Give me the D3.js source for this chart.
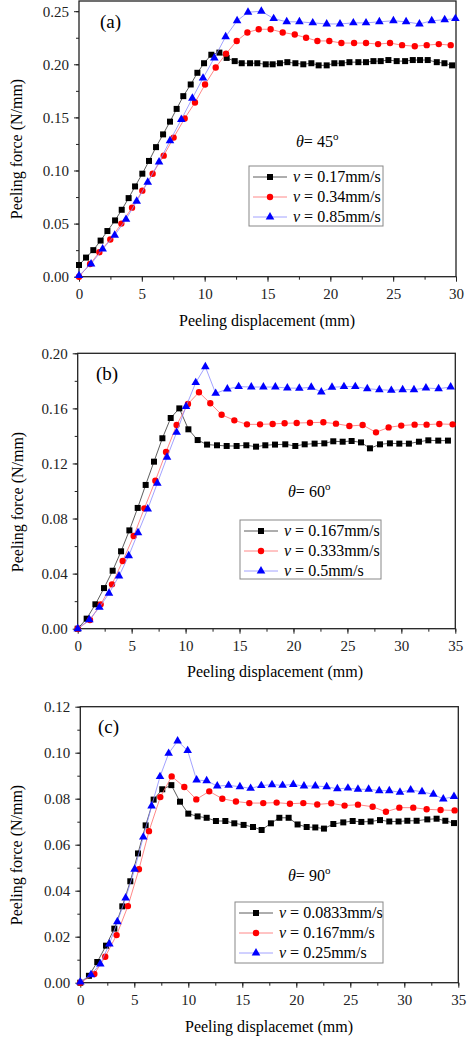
<!DOCTYPE html>
<html lang="en">
<head>
<meta charset="UTF-8">
<title>Peeling force vs displacement</title>
<script src="https://d3js.org/d3.v7.min.js"></script>
<style>
  body { margin: 0; background: #fff; }
  svg { display: block; font-family: "Liberation Serif", "DejaVu Serif", serif; }
  .tick text { font-size: 15px; fill: #222; font-family: "Liberation Serif", serif; }
  .tick line { stroke: #222; }
</style>
</head>
<body>
<svg id="chart" width="474" height="1046"></svg>
<script>
// ---- data ----
// (a) theta = 45
const aBlackX = [0,0.56,1.14,1.72,2.26,2.87,3.40,3.95,4.46,5.04,5.57,6.13,6.69,7.24,7.77,8.30,8.89,9.42,9.95,10.53,11.17,11.75,12.39,12.95,13.61,14.19,14.86,15.41,15.99,16.58,17.22,17.85,18.49,19.07,19.71,20.32,20.91,21.52,22.23,22.84,23.43,24.01,24.62,25.28,25.95,26.56,27.14,27.75,28.47,29.08,29.69];
const aBlackY = [0.011,0.018,0.025,0.034,0.043,0.053,0.063,0.074,0.085,0.097,0.109,0.122,0.134,0.146,0.158,0.170,0.181,0.192,0.201,0.209,0.211,0.206,0.203,0.201,0.201,0.201,0.200,0.200,0.201,0.202,0.201,0.200,0.201,0.199,0.199,0.201,0.201,0.202,0.202,0.202,0.203,0.203,0.204,0.203,0.203,0.204,0.204,0.204,0.202,0.201,0.199];
const aRedX = [0,0.88,1.62,2.49,3.37,4.22,5.04,5.86,6.74,7.53,8.41,9.23,10.03,10.88,11.70,12.55,13.40,14.30,15.25,16.21,17.17,18.07,18.97,19.92,20.88,21.89,22.84,23.80,24.75,25.71,26.72,27.67,28.63,29.58];
const aRedY = [0,0.012,0.023,0.035,0.050,0.065,0.081,0.097,0.114,0.131,0.149,0.164,0.181,0.197,0.210,0.222,0.230,0.233,0.233,0.230,0.228,0.225,0.222,0.222,0.220,0.220,0.220,0.219,0.220,0.218,0.217,0.218,0.219,0.218];
const aBlueX = [0,0.96,1.88,2.84,3.74,4.59,5.47,6.37,7.24,8.14,9.02,9.87,10.77,11.67,12.58,13.45,14.51,15.49,16.53,17.54,18.60,19.71,20.77,21.83,22.84,23.90,25.02,26.03,27.09,28.07,29.10,29.95];
const aBlueY = [0.001,0.012,0.026,0.039,0.054,0.071,0.089,0.108,0.128,0.148,0.168,0.187,0.206,0.226,0.241,0.249,0.250,0.243,0.240,0.240,0.239,0.238,0.238,0.239,0.239,0.240,0.241,0.240,0.238,0.241,0.242,0.243];

// (b) theta = 60
const bBlackX = [0,0.83,1.64,2.44,3.24,4.02,4.79,5.56,6.30,7.07,7.85,8.62,9.42,10.26,11.12,11.99,12.91,13.81,14.73,15.63,16.53,17.39,18.29,19.24,20.17,21.04,21.96,22.86,23.69,24.56,25.39,26.26,27.09,28.02,28.94,29.81,30.70,31.63,32.50,33.42,34.32];
const bBlackY = [0,0.0073,0.0177,0.0295,0.0421,0.0562,0.0714,0.0877,0.1044,0.1213,0.1383,0.1530,0.1600,0.1448,0.1370,0.1337,0.1332,0.1327,0.1327,0.1332,0.1322,0.1332,0.1337,0.1339,0.1327,0.1339,0.1344,0.1346,0.1361,0.1358,0.1363,0.1353,0.1310,0.1339,0.1346,0.1344,0.1344,0.1358,0.1368,0.1366,0.1366];
const bRedX = [0,1.14,2.13,3.18,4.17,5.19,6.18,7.20,8.19,9.17,10.22,11.24,12.29,13.34,14.52,15.69,16.90,18.07,19.18,20.30,21.53,22.77,23.94,25.18,26.41,27.65,28.82,29.99,31.23,32.34,33.52,34.75];
const bRedY = [0,0.0063,0.0177,0.0322,0.0492,0.0673,0.0874,0.1075,0.1283,0.1479,0.1632,0.1717,0.1637,0.1554,0.1513,0.1484,0.1484,0.1487,0.1492,0.1494,0.1496,0.1499,0.1489,0.1472,0.1479,0.1426,0.1462,0.1475,0.1482,0.1482,0.1487,0.1484];
const bBlueX = [0,1.08,2.01,2.90,3.83,4.73,5.59,6.49,7.38,8.28,9.17,10.04,10.94,11.83,12.79,13.87,14.92,16.09,17.21,18.32,19.43,20.54,21.65,22.58,23.57,24.68,25.73,26.84,27.96,29.07,30.12,31.17,32.28,33.45,34.57];
const bBlueY = [0,0.0065,0.0155,0.0257,0.0383,0.0530,0.0697,0.0869,0.1056,0.1245,0.1426,0.1613,0.1787,0.1903,0.1709,0.1741,0.1758,0.1755,0.1755,0.1755,0.1748,0.1746,0.1753,0.1719,0.1753,0.1758,0.1758,0.1743,0.1736,0.1731,0.1736,0.1736,0.1748,0.1743,0.1755];

// (c) theta = 90
const cBlackX = [0,0.80,1.57,2.38,3.15,3.89,4.63,5.34,6.05,6.79,7.59,8.43,9.23,10.00,10.86,11.70,12.56,13.43,14.26,15.12,15.99,16.79,17.65,18.43,19.29,20.12,20.96,21.76,22.56,23.43,24.35,25.22,26.02,26.88,27.75,28.61,29.47,30.28,31.14,32.13,32.99,33.80,34.60];
const cBlackY = [0,0.0030,0.0090,0.0161,0.0235,0.0332,0.0441,0.0562,0.0684,0.0796,0.0841,0.0859,0.0787,0.0735,0.0723,0.0717,0.0703,0.0703,0.0693,0.0686,0.0677,0.0664,0.0693,0.0717,0.0717,0.0688,0.0677,0.0675,0.0670,0.0690,0.0697,0.0703,0.0699,0.0701,0.0707,0.0701,0.0701,0.0704,0.0704,0.0710,0.0713,0.0704,0.0694];
const cRedX = [0,1.30,2.31,3.36,4.41,5.43,6.36,7.41,8.46,9.63,10.74,11.94,13.15,14.41,15.65,16.94,18.18,19.41,20.65,21.94,23.24,24.47,25.71,27.07,28.30,29.54,30.83,32.07,33.36,34.66];
const cRedY = [0,0.0038,0.0113,0.0207,0.0333,0.0493,0.0659,0.0807,0.0897,0.0851,0.0797,0.0832,0.0800,0.0788,0.0781,0.0781,0.0783,0.0778,0.0781,0.0775,0.0780,0.0770,0.0774,0.0765,0.0743,0.0761,0.0761,0.0754,0.0751,0.0749];
const cBlueX = [0,0.99,1.85,2.69,3.43,4.20,5.03,5.83,6.60,7.38,8.18,9.01,9.94,10.77,11.70,12.68,13.73,14.78,15.77,16.76,17.75,18.73,19.72,20.71,21.76,22.81,23.80,24.78,25.71,26.70,27.68,28.61,29.60,30.59,31.64,32.69,33.61,34.60];
const cBlueY = [0.0003,0.0035,0.0081,0.0168,0.0265,0.0368,0.0493,0.0633,0.0768,0.0896,0.0997,0.1051,0.1009,0.0881,0.0878,0.0855,0.0858,0.0852,0.0845,0.0857,0.0861,0.0858,0.0862,0.0855,0.0855,0.0852,0.0843,0.0846,0.0841,0.0841,0.0835,0.0835,0.0828,0.0838,0.0830,0.0819,0.0799,0.0810];

// ticks and labels
const aXTicks = [0,5,10,15,20,25,30];
const aYTicks = [0,0.05,0.10,0.15,0.20,0.25];
const bXTicks = [0,5,10,15,20,25,30,35];
const bYTicks = [0,0.04,0.08,0.12,0.16,0.20];
const cXTicks = [0,5,10,15,20,25,30,35];
const cYTicks = [0,0.02,0.04,0.06,0.08,0.10,0.12];
const aLegend = ["0.17mm/s", "0.34mm/s", "0.85mm/s"];
const bLegend = ["0.167mm/s", "0.333mm/s", "0.5mm/s"];
const cLegend = ["0.0833mm/s", "0.167mm/s", "0.25mm/s"];

const svg = d3.select("#chart");

// marker styles for the three speeds
const styles = [
  { fill: "#000", line: "#333", sym: d3.symbolSquare, size: 36 },
  { fill: "#ff0000", line: "#ff6a6a", sym: d3.symbolCircle, size: 32 },
  { fill: "#0000ff", line: "#8a8aff", sym: d3.symbolTriangle, size: 32 }
];

function drawPanel(p) {
  const x = d3.scaleLinear().domain(p.xDomain).range([p.left, p.right]);
  const y = d3.scaleLinear().domain(p.yDomain).range([p.bottom, p.top]);
  const g = svg.append("g");

  // minor ticks
  g.append("g")
    .attr("transform", `translate(0,${p.bottom})`)
    .call(d3.axisBottom(x).tickValues(p.xMinor).tickSize(3).tickFormat(""))
    .call(s => s.select(".domain").remove());
  g.append("g")
    .attr("transform", `translate(${p.left},0)`)
    .call(d3.axisLeft(y).tickValues(p.yMinor).tickSize(3).tickFormat(""))
    .call(s => s.select(".domain").remove());

  // major ticks
  g.append("g")
    .attr("transform", `translate(0,${p.bottom})`)
    .call(d3.axisBottom(x).tickValues(p.xTicks).tickSize(5).tickSizeOuter(0).tickPadding(7).tickFormat(d3.format("d")))
    .call(s => s.select(".domain").remove());
  g.append("g")
    .attr("transform", `translate(${p.left},0)`)
    .call(d3.axisLeft(y).tickValues(p.yTicks).tickSize(5).tickSizeOuter(0).tickPadding(5).tickFormat(d3.format(".2f")))
    .call(s => s.select(".domain").remove());

  // frame
  g.append("rect")
    .attr("x", p.left).attr("y", p.top)
    .attr("width", p.right - p.left).attr("height", p.bottom - p.top)
    .attr("fill", "none").attr("stroke", "#222").attr("stroke-width", 1.3);

  // series
  const line = d3.line().x(d => x(d[0])).y(d => y(d[1]));
  p.series.forEach((s, i) => {
    const pts = s.x.map((v, k) => [v, s.y[k]]);
    const st = styles[i];
    g.append("path").datum(pts)
      .attr("d", line)
      .attr("fill", "none")
      .attr("stroke", st.line)
      .attr("stroke-width", 0.8);
    g.selectAll(null).data(pts).enter().append("path")
      .attr("d", d3.symbol().type(st.sym).size(st.size))
      .attr("transform", d => `translate(${x(d[0])},${y(d[1])})`)
      .attr("fill", st.fill);
  });

  // panel label
  g.append("text").attr("x", p.tag[0]).attr("y", p.tag[1])
    .attr("font-size", 19).text(p.tagText);

  // theta label
  const th = g.append("text").attr("x", p.theta[0]).attr("y", p.theta[1]).attr("font-size", 16);
  th.append("tspan").attr("font-style", "italic").text("\u03b8");
  th.append("tspan").text("= " + p.thetaText);
  th.append("tspan").attr("font-size", 11).attr("dy", -7).text("o");

  // legend
  const lg = g.append("g");
  lg.append("rect")
    .attr("x", p.leg[0]).attr("y", p.leg[1])
    .attr("width", p.leg[2]).attr("height", p.leg[3])
    .attr("fill", "#fff").attr("stroke", "#888").attr("stroke-width", 1);
  p.legend.forEach((t, i) => {
    const st = styles[i];
    const ry = p.leg[1] + 11 + i * 20;
    lg.append("line")
      .attr("x1", p.leg[0] + 4).attr("x2", p.leg[0] + 38)
      .attr("y1", ry).attr("y2", ry)
      .attr("stroke", st.line).attr("stroke-width", 0.8);
    lg.append("path")
      .attr("d", d3.symbol().type(st.sym).size(st.size))
      .attr("transform", `translate(${p.leg[0] + 21},${ry})`)
      .attr("fill", st.fill);
    const tx = lg.append("text")
      .attr("x", p.leg[0] + 44).attr("y", ry + 5)
      .attr("font-size", 16);
    tx.append("tspan").attr("font-style", "italic").text("v");
    tx.append("tspan").text(" = " + t);
  });

  // axis titles
  g.append("text")
    .attr("x", p.xTitle[0]).attr("y", p.xTitle[1])
    .attr("text-anchor", "middle").attr("font-size", 16)
    .text(p.xTitleText);
  g.append("text")
    .attr("transform", `translate(${p.yTitle[0]},${p.yTitle[1]}) rotate(-90)`)
    .attr("text-anchor", "middle").attr("font-size", 16)
    .text("Peeling force (N/mm)");
}

const minor = (a, b, step) => d3.range(a, b + step / 2, step);

drawPanel({
  left: 79, right: 456, top: 1, bottom: 276.7,
  xDomain: [0, 30], yDomain: [0, 0.2596],
  xTicks: aXTicks, yTicks: aYTicks,
  xMinor: minor(0, 30, 2.5), yMinor: minor(0, 0.25, 0.025),
  series: [{ x: aBlackX, y: aBlackY }, { x: aRedX, y: aRedY }, { x: aBlueX, y: aBlueY }],
  tag: [100, 28], tagText: "(a)",
  theta: [296, 147], thetaText: "45",
  leg: [249, 166, 134, 60], legend: aLegend,
  xTitle: [267, 326], xTitleText: "Peeling displacement (mm)",
  yTitle: [22, 149]
});

drawPanel({
  left: 77.7, right: 455.3, top: 353.3, bottom: 628.7,
  xDomain: [0, 35], yDomain: [0, 0.2],
  xTicks: bXTicks, yTicks: bYTicks,
  xMinor: minor(0, 35, 2.5), yMinor: minor(0, 0.2, 0.02),
  series: [{ x: bBlackX, y: bBlackY }, { x: bRedX, y: bRedY }, { x: bBlueX, y: bBlueY }],
  tag: [96, 380], tagText: "(b)",
  theta: [288, 497], thetaText: "60",
  leg: [240, 520, 141, 59], legend: bLegend,
  xTitle: [275, 677], xTitleText: "Peeling displacement (mm)",
  yTitle: [23, 502]
});

drawPanel({
  left: 80.3, right: 458.3, top: 706.7, bottom: 982.7,
  xDomain: [0, 35], yDomain: [0, 0.12],
  xTicks: cXTicks, yTicks: cYTicks,
  xMinor: minor(0, 35, 2.5), yMinor: minor(0, 0.12, 0.01),
  series: [{ x: cBlackX, y: cBlackY }, { x: cRedX, y: cRedY }, { x: cBlueX, y: cBlueY }],
  tag: [98, 733], tagText: "(c)",
  theta: [288, 881], thetaText: "90",
  leg: [235, 902, 148, 61], legend: cLegend,
  xTitle: [269, 1032], xTitleText: "Peeling displacemet (mm)",
  yTitle: [22, 855]
});
</script>
</body>
</html>
